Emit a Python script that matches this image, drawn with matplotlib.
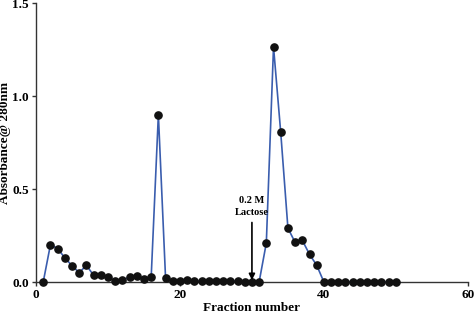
import matplotlib
matplotlib.use("Agg")
import matplotlib.pyplot as plt

fractions = list(range(1, 51))
absorbance = [0.0, 0.20, 0.18, 0.13, 0.088, 0.05, 0.09, 0.036, 0.036, 0.027,
              0.005, 0.012, 0.025, 0.032, 0.016, 0.025, 0.90, 0.02, 0.005, 0.005,
              0.01, 0.005, 0.005, 0.005, 0.005, 0.005, 0.005, 0.005, 0.0, 0.0,
              0.0, 0.21, 1.265, 0.805, 0.29, 0.213, 0.224, 0.149, 0.09, 0.0,
              0.0, 0.0, 0.0, 0.0, 0.0, 0.0, 0.0, 0.0, 0.0, 0.0]
xticks = [0, 20, 40, 60]
yticks = [0.0, 0.5, 1.0, 1.5]
ytick_labels = ["0.0", "0.5", "1.0", "1.5"]
arrow_fraction = 30
annotation_text = "0.2 M\nLactose"

plt.rcParams['font.family'] = ['Liberation Serif', 'DejaVu Serif']
plt.rcParams['font.weight'] = 'bold'

fig = plt.figure(figsize=(4.74, 3.13), dpi=100)
ax = fig.add_axes([0.076, 0.099, 0.911, 0.891])
ax.plot(fractions, absorbance, color='#3A5DAE', lw=1.2, marker='o',
        markersize=5.2, markerfacecolor='#111111', markeredgecolor='#111111', clip_on=False, zorder=3)
ax.set_xlim(0, 60)
ax.set_ylim(0, 1.5)
ax.set_xticks(xticks)
ax.set_yticks(yticks)
ax.set_yticklabels(ytick_labels)
for s in ['top', 'right']:
    ax.spines[s].set_visible(False)
for s in ['left', 'bottom']:
    ax.spines[s].set_color('#333333')
    ax.spines[s].set_linewidth(1.0)
ax.tick_params(axis='both', labelsize=9.5, length=3, width=1, color='#333333', pad=2)
for lab in ax.get_xticklabels() + ax.get_yticklabels():
    lab.set_fontweight('bold')
ax.set_xlabel("Fraction number", fontsize=9.5, fontweight='bold', labelpad=1)
ax.set_ylabel("Absorbance@ 280nm", fontsize=9.5, fontweight='bold', labelpad=1)
ax.annotate(annotation_text, xy=(arrow_fraction, 0.01), xytext=(arrow_fraction, 0.35),
            ha='center', va='bottom', fontsize=7.5, fontweight='bold', linespacing=1.4,
            arrowprops=dict(arrowstyle='-|>', color='black', lw=1.2, mutation_scale=9,
                            shrinkA=2, shrinkB=0))
fig.savefig("out.png", dpi=100)
